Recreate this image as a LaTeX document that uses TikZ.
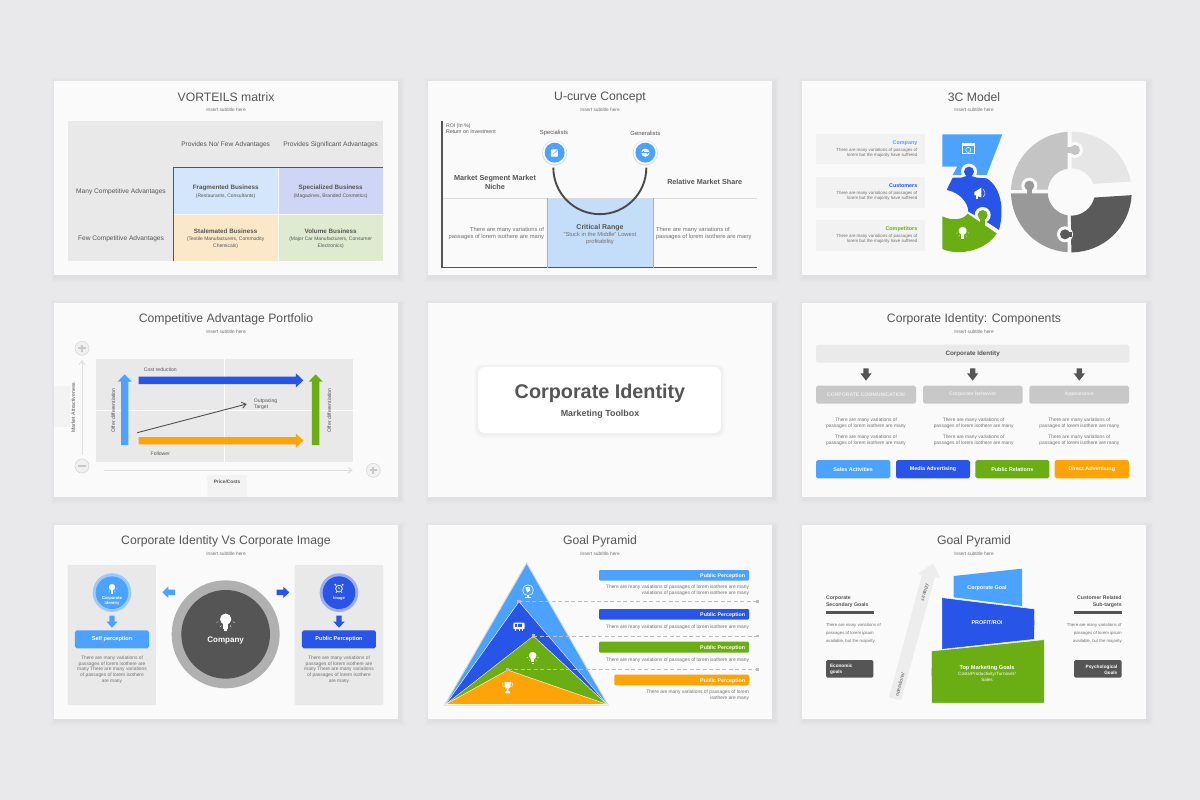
\documentclass[tikz,border=0pt]{standalone}
\usepackage{fontspec}
\usetikzlibrary{arrows.meta}
\setmainfont{Liberation Sans}
\definecolor{bgc}{HTML}{E9E9EB}
\definecolor{pan}{HTML}{FAFAFA}
\definecolor{tg}{HTML}{555555}
\definecolor{tl}{HTML}{707070}
\definecolor{lb}{HTML}{4BA3FF}
\definecolor{db}{HTML}{2855E8}
\definecolor{gr}{HTML}{6AAE14}
\definecolor{or}{HTML}{FFA408}
\definecolor{gy}{HTML}{E9E9E9}
\definecolor{cD4E6FB}{HTML}{D4E6FB}\definecolor{cCFD5F5}{HTML}{CFD5F5}\definecolor{cFBE8C8}{HTML}{FBE8C8}\definecolor{cDFEBD0}{HTML}{DFEBD0}
\definecolor{cC4DDF8}{HTML}{C4DDF8}\definecolor{cDADADA}{HTML}{DADADA}\definecolor{c9DB4CC}{HTML}{9DB4CC}\definecolor{c4A4A4A}{HTML}{4A4A4A}
\definecolor{cDEDEDE}{HTML}{DEDEDE}\definecolor{cF2F2F2}{HTML}{F2F2F2}\definecolor{cC4C4C4}{HTML}{C4C4C4}\definecolor{cE6E6E6}{HTML}{E6E6E6}
\definecolor{c5A5A5A}{HTML}{5A5A5A}\definecolor{c999999}{HTML}{999999}\definecolor{cF3F3F3}{HTML}{F3F3F3}\definecolor{cD9D9D9}{HTML}{D9D9D9}
\definecolor{cF0F0F0}{HTML}{F0F0F0}\definecolor{cC9C9C9}{HTML}{C9C9C9}\definecolor{c4F4F4F}{HTML}{4F4F4F}\definecolor{cEAEAEA}{HTML}{EAEAEA}
\definecolor{cC8C8C8}{HTML}{C8C8C8}\definecolor{c9CCBFA}{HTML}{9CCBFA}\definecolor{c9DADEE}{HTML}{9DADEE}\definecolor{cB0B0B0}{HTML}{B0B0B0}
\definecolor{cD4D4D4}{HTML}{D4D4D4}\definecolor{cBDBDBD}{HTML}{BDBDBD}\definecolor{cEBEBEB}{HTML}{EDEDED}
\tikzset{
  zp/.style 2 args={shift={(#1,#2)},x=0.33333pt,y=-0.33333pt},
  txt/.style={inner sep=0pt,outer sep=0pt,text=tg,align=center,yshift=-0.9pt},
  fs/.style 2 args={font=\fontsize{#1}{#2}\selectfont},
  b/.style={execute at begin node=\bfseries},
  body/.style={txt,text=tl,fs={4.85}{5.8}},
  box/.style={inner sep=0pt,outer sep=0pt,rounded corners=1.8pt,text=white,font=\fontsize{6}{7}\selectfont\bfseries},
}
\newcommand\pshadow[4]{%
  \foreach \k in {1,...,5}{\fill[black,opacity=0.007] (#1-\k+2,#2-\k+2) rectangle (#3+\k+2,#4+\k+2);}}
\newcommand\panel[4]{%
  \pshadow{#2}{#3}{#2+344}{#3+194}
  \fill[pan] (#2,#3) rectangle (#2+344,#3+194);
  \node[txt,fs={12.2}{14}] (#1t) at (#2+172,#3+15.4) {#4};
  \node[txt,text=tl,fs={4.8}{5}] (#1s) at (#2+172,#3+28) {Insert subtitle here};
}
\newcommand\boxn[7]{\node[box,fill=#6,minimum width={(#4-#2)/3*1pt},minimum height={(#5-#3)/3*1pt}] (#1) at ({(#2+#4)/2},{(#3+#5)/2}) {#7};}
\newcommand\arH[7]{\fill[#7] (#1,#3-#4) -- (#2-#6,#3-#4) -- (#2-#6,#3-#5) -- (#2,#3) -- (#2-#6,#3+#5) -- (#2-#6,#3+#4) -- (#1,#3+#4) -- cycle;}
\newcommand\arV[7]{\fill[#7] (#3-#4,#1) -- (#3-#4,#2-#6) -- (#3-#5,#2-#6) -- (#3,#2) -- (#3+#5,#2-#6) -- (#3+#4,#2-#6) -- (#3+#4,#1) -- cycle;}
\newcommand\ringsec[5]{\fill[#1] (#2:181) arc[start angle=#2,end angle=#3,radius=181] -- (#4:71) arc[start angle=#4,end angle=#5,radius=71] -- cycle;}
% icons
\newcommand\icbulb[4]{\begin{scope}[shift={(#1,#2)},x=#3pt,y=-#3pt]
  \fill[#4] (0,-1.2) circle (2.7);
  \fill[#4] (-1.2,1) rectangle (1.2,3.3);
  \fill[#4] (-0.8,3.7) rectangle (0.8,4.4);
  \foreach \a in {200,235,270,305,340}{\draw[#4,line width=0.35pt] (0,-1.2)++(-\a:3.6) -- ++(-\a:1);}
  \end{scope}}
\newcommand\icwin[4]{\begin{scope}[shift={(#1,#2)},x=#3pt,y=-#3pt]
  \draw[#4,line width=0.6pt] (-3.6,-3.4) rectangle (3.6,3.4);
  \fill[#4] (-3.6,-3.4) rectangle (3.6,-1.6);
  \draw[#4,line width=0.5pt] (0,1) circle (1.6);
  \end{scope}}
\newcommand\icmega[4]{\begin{scope}[shift={(#1,#2)},x=#3pt,y=-#3pt]
  \fill[#4] (-4,-1) -- (1,-4) -- (1,3) -- (-4,1.2) -- cycle;
  \fill[#4] (-3,1) rectangle (-1.4,4.2);
  \draw[#4,line width=0.5pt] (2.2,-3) -- (3.4,-1) -- (3.4,1) -- (2.2,2.4);
  \end{scope}}
\newcommand\icedit[4]{\begin{scope}[shift={(#1,#2)},x=#3pt,y=-#3pt]
  \fill[#4,rounded corners=0.5pt] (-3,-2.6) rectangle (2.6,3.2);
  \draw[lb,line width=0.5pt] (-1,1) -- (3.4,-3.2);
  \end{scope}}
\newcommand\icglobe[4]{\begin{scope}[shift={(#1,#2)},x=#3pt,y=-#3pt]
  \fill[#4] (0,0) circle (3.3);
  \draw[lb,line width=0.4pt] (-3.2,0) -- (3.2,0);
  \fill[lb] (-1.6,-0.9) circle (0.6) (1.6,0.9) circle (0.6);
  \end{scope}}
\newcommand\icclock[4]{\begin{scope}[shift={(#1,#2)},x=#3pt,y=-#3pt]
  \draw[#4,line width=0.8pt] (0,0.3) circle (3.2);
  \draw[#4,line width=0.5pt] (0,-1.3) -- (0,0.3) -- (1.2,0.8);
  \fill[#4] (-3.4,-3.4) circle (1) (3.4,-3.4) circle (1);
  \draw[#4,line width=0.5pt] (-2,3.2) -- (-3,4.4) (2,3.2) -- (3,4.4);
  \end{scope}}
\newcommand\icwglobe[4]{\begin{scope}[shift={(#1,#2)},x=#3pt,y=-#3pt]
  \draw[#4,line width=0.6pt] (0,-0.8) circle (3.6);
  \fill[#4] (-1.8,-2.6) -- (1,-3) -- (1.6,-0.6) -- (-0.6,0.8) -- cycle;
  \fill[#4] (-2,3.9) rectangle (2,4.5);
  \fill[#4] (-0.4,2.7) rectangle (0.4,4);
  \end{scope}}
\newcommand\icabc[4]{\begin{scope}[shift={(#1,#2)},x=#3pt,y=-#3pt]
  \fill[#4,rounded corners=0.8pt] (-4.6,-3) rectangle (4.6,2.4);
  \foreach \q in {-3,-0.9,1.2}{\fill[db] (\q,-1.6) rectangle (\q+1.6,0.6);}
  \foreach \q in {-3,0,3}{\fill[#4] (\q-0.35,2.4) rectangle (\q+0.35,4.2);}
  \end{scope}}
\newcommand\ictrophy[4]{\begin{scope}[shift={(#1,#2)},x=#3pt,y=-#3pt]
  \fill[#4] (-2.6,-4.4) -- (2.6,-4.4) -- (2,-0.4) -- (0.6,0.8) -- (0.6,2.4) -- (2,3.4) -- (2,4.6) -- (-2,4.6) -- (-2,3.4) -- (-0.6,2.4) -- (-0.6,0.8) -- (-2,-0.4) -- cycle;
  \draw[#4,line width=0.4pt] (-2.6,-3.6) -- (-4,-3.6) -- (-3.8,-1.4) -- (-2,-0.8) (2.6,-3.6) -- (4,-3.6) -- (3.8,-1.4) -- (2,-0.8);
  \end{scope}}
\begin{document}
\begin{tikzpicture}[x=1pt,y=-1pt]
\useasboundingbox (0,0) rectangle (1200,800);
\fill[bgc] (0,0) rectangle (1200,800);
%% panels
\panel{pa}{54}{81}{VORTEILS matrix}
\panel{pb}{428}{81}{U-curve Concept}
\panel{pc}{802}{81}{3C Model}
\panel{pd}{54}{303}{Competitive Advantage Portfolio}
\pshadow{428}{303}{772}{497}
\fill[pan] (428,303) rectangle (772,497);
\panel{pf}{802}{303}{Corporate Identity: Components}
\panel{pg}{54}{525}{Corporate Identity Vs Corporate Image}
\panel{ph}{428}{525}{Goal Pyramid}
\panel{pi}{802}{525}{Goal Pyramid}

%% A: matrix
\begin{scope}[zp={50}{75}]
\fill[gy] (55,137) rectangle (1000,558);
\fill[white!60!gy] (370,277) rectangle (1000,558);
\fill[cD4E6FB] (372,278) rectangle (685,417);
\fill[cCFD5F5] (688,278) rectangle (1000,417);
\fill[cFBE8C8] (372,420) rectangle (685,558);
\fill[cDFEBD0] (688,420) rectangle (1000,558);
\draw[tg,line width=0.9pt] (370,558) -- (370,277) -- (1000,277);
\node[txt,fs={6.6}{7}] (a1) at (527,207) {Provides No/ Few Advantages};
\node[txt,fs={6.6}{7}] (a2) at (842,207) {Provides Significant Advantages};
\node[txt,fs={6.6}{7}] (a3) at (213,348) {Many Competitive Advantages};
\node[txt,fs={6.6}{7}] (a4) at (213,488) {Few Competitive Advantages};
\node[txt,b,fs={6.3}{7}] (a5) at (527,337) {Fragmented Business};
\node[txt,fs={5}{7}] (a6) at (527,360) {(Restaurants, Consultants)};
\node[txt,b,fs={6.3}{7}] (a7) at (842,337) {Specialized Business};
\node[txt,fs={5}{7}] (a8) at (842,360) {(Magazines, Branded Cosmetics)};
\node[txt,b,fs={6.3}{7}] (a9) at (527,467) {Stalemated Business};
\node[txt,fs={5}{7}] (a10) at (527,501) {(Textile Manufacturers, Commodity\\Chemicals)};
\node[txt,b,fs={6.3}{7}] (a11) at (842,467) {Volume Business};
\node[txt,fs={5}{7}] (a12) at (842,501) {(Major Car Manufacturers, Consumer\\Electronics)};
\end{scope}

%% B: U-curve
\begin{scope}[zp={425}{75}]
\fill[cC4DDF8] (367,369) rectangle (683,578);
\draw[cDADADA,line width=0.8pt] (53,369) -- (997,369);
\draw[tg,line width=1.2pt] (51,137) -- (51,578) -- (997,578);
\draw[c9DB4CC,line width=0.3pt] (367,369) -- (367,578) (683,369) -- (683,578);
\coordinate (bu1) at (385,278);
\coordinate (bu2) at (664,278);
\draw[c4A4A4A,line width=1.9pt] (bu1) arc[start angle=180,end angle=0,radius=139.5];
\foreach \cx/\nm in {389/bc1,661/bc2}{
 \fill[cDEDEDE] (\cx,234) circle (38);
 \node[circle,fill=white,minimum size=23.5pt,inner sep=0pt] at (\cx,233) {};
 \node[circle,fill=lb,minimum size=20pt,inner sep=0pt] (\nm) at (\cx,233) {};
}
\icedit{389}{233}{1.25}{white}
\icglobe{661}{233}{1.25}{white}
\node[txt,align=left,anchor=north west,fs={5.2}{6}] (b1) at (63,143) {ROI (In \%)\\Return on Investment};
\node[txt,fs={5.9}{6}] (b2) at (387,171) {Specialists};
\node[txt,fs={5.9}{6}] (b3) at (661,171) {Generalists};
\node[txt,b,fs={7.3}{9.4}] (b4) at (210,320) {Market Segment Market\\Niche};
\node[txt,b,fs={7.2}{9}] (b5) at (839,319) {Relative Market Share};
\node[txt,text=tl,align=right,anchor=east,fs={5.8}{7}] (b6) at (357,474) {There are many variations of\\passages of lorem isothere are many};
\node[txt,text=tl,align=left,anchor=west,fs={5.8}{7}] (b7) at (693,474) {There are many variations of\\passages of lorem isothere are many};
\node[txt,b,fs={7}{8}] (b8) at (525,454) {Critical Range};
\node[txt,text=tl,fs={5.8}{7}] (b9) at (525,488) {"Stuck in the Middle" Lowest\\profitability};
\end{scope}

%% C: 3C
\begin{scope}[zp={800}{75}]
\foreach \a/\b in {178/268,306/398,435/528}{\fill[cF2F2F2] (48,\a) rectangle (376,\b);}
\node[txt,b,text=lb,anchor=east,fs={5.4}{6}] (c1) at (352,201) {Company};
\node[txt,b,text=db,anchor=east,fs={5.4}{6}] (c2) at (352,330) {Customers};
\node[txt,b,text=gr,anchor=east,fs={5.4}{6}] (c3) at (352,459) {Competitors};
\node[body,align=right,anchor=east,fs={4.4}{5.3}] (c4) at (352,230) {There are many variations of passages of\\lorem but the majority have suffered};
\node[body,align=right,anchor=east,fs={4.4}{5.3}] (c5) at (352,360) {There are many variations of passages of\\lorem but the majority have suffered};
\node[body,align=right,anchor=east,fs={4.4}{5.3}] (c6) at (352,489) {There are many variations of passages of\\lorem but the majority have suffered};
% the 3
\fill[lb] (427,178) -- (607,178) -- (560,300) -- (458,300) -- (472,275) -- (427,275) -- cycle;
\fill[pan] (507,290) circle (24);
\fill[db] (458,308) -- (484,308) -- (496,304) -- (518,304) -- (530,308) -- (560,310) .. controls (600,335) and (615,395) .. (597,465) -- (570,447) -- (505,410) .. controls (505,385) and (480,352) .. (440,345) -- cycle;
\fill[db] (507,290) circle (15);
\fill[db] (499,295) rectangle (515,310);
\fill[pan] (548,420) circle (24);
\fill[gr] (427,424) .. controls (455,438) and (490,435) .. (503,416) -- (590,475) .. controls (560,525) and (480,545) .. (427,522) -- cycle;
\fill[gr] (548,420) circle (15);
\fill[gr] (541,425) rectangle (556,455);
\icwin{505}{220}{1.6}{white}
\icmega{540}{355}{1.4}{white}
\icbulb{488}{473}{1.5}{white}
% the C
\begin{scope}[shift={(814,351)}]
\ringsec{cC4C4C4}{182}{266.5}{261}{186}
\ringsec{cE6E6E6}{270.3}{350}{340}{271}
\ringsec{c5A5A5A}{3}{90}{91}{13.5}
\ringsec{c999999}{93.5}{178.7}{176.7}{99}
\end{scope}
\fill[pan] (825,225) circle (24);
\fill[cC4C4C4] (825,225) circle (15);
\fill[cC4C4C4] (802,217) rectangle (818,233);
\fill[pan] (688,332) circle (24);
\fill[c999999] (688,332) circle (15);
\fill[c999999] (680,338) rectangle (696,356);
\fill[pan] (795,478) circle (24);
\fill[c5A5A5A] (795,478) circle (15);
\fill[c5A5A5A] (798,470) rectangle (815,486);
\end{scope}

%% D: portfolio
\begin{scope}[zp={50}{300}]
\fill[cF3F3F3] (12,258) rectangle (60,380);
\fill[cF3F3F3] (472,525) rectangle (590,590);
\fill[gy] (138,178) rectangle (910,485);
\draw[white,line width=0.8pt] (522,178) -- (522,485) (138,332) -- (925,332);
\coordinate (dv0) at (96,465); \coordinate (dv1) at (96,180);
\coordinate (dh0) at (162,511); \coordinate (dh1) at (908,511);
\draw[cDEDEDE,line width=1pt,-{Straight Barb[length=4pt,width=6pt]}] (dv0) -- (dv1);
\draw[cDEDEDE,line width=1pt,-{Straight Barb[length=4pt,width=6pt]}] (dh0) -- (dh1);
\foreach \x/\y/\n/\p in {96/145/dc1/1,96/498/dc2/0,970/511/dc3/1}{
 \node[circle,draw=cD9D9D9,fill=cF0F0F0,line width=0.6pt,minimum size=14pt,inner sep=0pt] (\n) at (\x,\y) {};
 \fill[cC9C9C9] (\x-11,\y-3) rectangle (\x+11,\y+3);
 \ifnum\p=1 \fill[cC9C9C9] (\x-3,\y-11) rectangle (\x+3,\y+11);\fi
}
\arV{435}{223}{224}{11}{21}{-22}{lb}
\arV{435}{223}{797}{11}{21}{-22}{gr}
\arH{266}{760}{241}{11}{21}{22}{db}
\arH{266}{760}{422}{11}{21}{22}{or}
\coordinate (da0) at (262,398);
\coordinate (da1) at (590,312);
\draw[c4F4F4F,line width=0.9pt,-{Straight Barb[length=4pt,width=6pt]}] (da0) -- (da1);
\node[txt,fs={5.1}{6}] (d1) at (331,206) {Cost reduction};
\node[txt,align=left,anchor=west,fs={5.1}{6}] (d2) at (612,311) {Outpacing\\Target};
\node[txt,fs={5.1}{6}] (d3) at (331,457) {Follower};
\node[txt,rotate=90,fs={5.2}{6}] (d4) at (190,329) {Offer differentiation};
\node[txt,rotate=90,fs={5.2}{6}] (d5) at (838,329) {Offer differentiation};
\node[txt,rotate=90,fs={5.2}{6}] (d6) at (70,320) {Market Attractiveness};
\node[txt,b,fs={4.8}{6}] (d7) at (531,542) {Price/Costs};
\end{scope}

%% E: cover
\foreach \k in {1,...,4}{\fill[black,opacity=0.012,rounded corners=8pt] (478-\k,367-\k+1) rectangle (721+\k,433+\k+1);}
\fill[white,rounded corners=7pt] (478,367) rectangle (721,433);
\node[txt,b,fs={19.8}{22}] (e1) at (600,392) {Corporate Identity};
\node[txt,b,fs={8.9}{10}] (e2) at (600,413.5) {Marketing Toolbox};

%% F: components
\begin{scope}[zp={800}{300}]
\boxn{f0}{48}{134}{988}{188}{cEAEAEA}{\fontsize{6.3}{7}\selectfont\textcolor{tg}{Corporate Identity}}
\foreach \x in {198,518,838}{\arV{205}{242}{\x}{8}{17}{22}{tg}}
\boxn{f1}{48}{257}{348}{311}{cC8C8C8}{\fontsize{5.1}{6}\selectfont\textcolor{cEBEBEB}{CORPORATE COMMUNICATION}}
\boxn{f2}{369}{257}{668}{311}{cC8C8C8}{\fontsize{5.1}{6}\selectfont\textcolor{cEBEBEB}{Corporate behavior}}
\boxn{f3}{688}{257}{987}{311}{cC8C8C8}{\fontsize{5.1}{6}\selectfont\textcolor{cEBEBEB}{Appearance}}
\foreach \x/\n in {198/fa,521/fb,838/fc}{
 \node[body] (\n1) at (\x,367) {There are many variations of\\passages of lorem isothere are many};
 \node[body] (\n2) at (\x,419) {There are many variations of\\passages of lorem isothere are many};
}
\boxn{f4}{48}{480}{271}{535}{lb}{\fontsize{5.4}{6}\selectfont Sales Activities}
\boxn{f5}{288}{480}{510}{535}{db}{\fontsize{5.4}{6}\selectfont Media Advertising}
\boxn{f6}{526}{480}{748}{535}{gr}{\fontsize{5.4}{6}\selectfont Public Relations}
\boxn{f7}{764}{480}{987}{535}{or}{\fontsize{5.4}{6}\selectfont Direct Advertising}
\end{scope}

%% G: identity vs image
\begin{scope}[zp={50}{520}]
\fill[gy,rounded corners=1pt] (53,135) rectangle (318,555);
\fill[gy,rounded corners=1pt] (734,135) rectangle (1000,555);
\fill[c9CCBFA] (186,218) circle (58);
\fill[lb] (186,218) circle (49);
\fill[c9DADEE] (867,218) circle (58);
\fill[db] (867,218) circle (49);
\icbulb{186}{206}{1.2}{white}
\icclock{867}{205}{1.05}{white}
\node[txt,text=white,b,fs={4.1}{4.8}] (g1) at (186,241) {Corporate\\Identity};
\node[txt,text=white,b,fs={4}{4.8}] (g2) at (867,233) {Image};
\arV{287}{323}{186}{8}{17}{18}{lb}
\arV{287}{323}{867}{8}{17}{18}{db}
\boxn{g3}{75}{331}{297}{385}{lb}{\fontsize{5.6}{7}\selectfont Self perception}
\boxn{g4}{756}{331}{978}{385}{db}{\fontsize{5.6}{7}\selectfont Public Perception}
\node[body] (g5) at (186,446) {There are many variations of\\passages of lorem isothere are\\many There are many variations\\of passages of lorem isothere\\are many};
\node[body] (g6) at (867,446) {There are many variations of\\passages of lorem isothere are\\many There are many variations\\of passages of lorem isothere\\are many};
\fill[cB0B0B0] (527,343) circle (162);
\fill[tg] (527,343) circle (133);
\icbulb{527}{305}{2.1}{white}
\node[txt,text=white,b,fs={8}{9}] (g7) at (527,360) {Company};
\arH{375}{337}{217}{8}{17}{-18}{lb}
\arH{680}{718}{217}{8}{17}{18}{db}
\end{scope}

%% H: pyramid
\begin{scope}[zp={425}{520}]
\fill[cD9D9D9] (305,126) -- (552,557) -- (56,557) -- cycle;
\fill[lb] (305,133) -- (546,553) -- (62,553) -- cycle;
\fill[db,draw=white,line width=0.4pt] (282,245) -- (546,553) -- (62,553) -- cycle;
\fill[gr,draw=white,line width=0.4pt] (325,348) -- (546,553) -- (62,553) -- cycle;
\fill[or,draw=white,line width=0.4pt] (248,450) -- (546,553) -- (62,553) -- cycle;
\coordinate (h1a) at (282,244); \coordinate (h1b) at (998,244);
\coordinate (h2a) at (325,348); \coordinate (h2b) at (998,348);
\coordinate (h3a) at (248,449); \coordinate (h3b) at (998,449);
\foreach \p in {1,2,3}{
 \draw[cBDBDBD,line width=0.5pt,dash pattern=on 4pt off 2.5pt] (h\p a) -- (h\p b);
 \fill[cBDBDBD] (h\p a)++(-5,-5) rectangle ++(10,10);
 \fill[cBDBDBD] (h\p b)++(-4,-4) rectangle ++(8,8);
}
\icwglobe{309}{214}{1.5}{white}
\icabc{282}{319}{1.2}{white}
\icbulb{323}{412}{1.4}{white}
\ictrophy{248}{503}{1.25}{white}
\foreach \n/\xa/\ya/\yb/\c in {ha/522/150/182/lb,hb/522/267/299/db,hc/522/365/398/gr,hd/568/464/496/or}{
 \fill[\c,rounded corners=1.2pt] (\xa,\ya) rectangle (972,\yb);
 \node[txt,text=white,b,anchor=east,fs={5.3}{6}] (\n) at (960,{(\ya+\yb)/2}) {Public Perception};
}
\node[body,align=right,anchor=east] (h1) at (972,209) {There are many variations of passages of lorem isothere are many\\variations of passages of lorem isothere are many};
\node[body,align=right,anchor=east] (h2) at (972,318) {There are many variations of passages of lorem isothere are many};
\node[body,align=right,anchor=east] (h3) at (972,417) {There are many variations of passages of lorem isothere are many};
\node[body,align=right,anchor=east] (h4) at (972,523) {There are many variations of passages of lorem\\isothere are many};
\end{scope}

%% I: goal pyramid 2
\begin{scope}[zp={800}{520}]
\fill[cEBEBEB] (267,532) -- (365,168) -- (355,160) -- (400,130) -- (420,174) -- (405,170) -- (303,541) -- cycle;
\node[txt,rotate=75,fs={4.8}{5}] (i1) at (301,491) {operational};
\node[txt,rotate=75,fs={4.8}{5}] (i2) at (375,215) {strategy};
\fill[lb] (461,168) -- (666,146) -- (666,258) -- (461,232) -- cycle;
\fill[db,draw=white,line width=0.4pt] (426,233) -- (704,267) -- (703,358) -- (426,388) -- cycle;
\fill[gr,draw=white,line width=0.4pt] (394,393) -- (733,359) -- (733,549) -- (395,549) -- cycle;
\node[txt,text=white,b,fs={5.4}{6}] (i3) at (561,201) {Corporate Goal};
\node[txt,text=white,b,fs={5.4}{6}] (i4) at (561,306) {PROFIT/ROI};
\node[txt,text=white,b,fs={5.6}{6.4}] (i5) at (561,441) {Top Marketing Goals};
\node[txt,text=white,fs={4.6}{6}] (i6) at (561,469) {Costs/Productivity/Turnover/\\Sales};
\node[txt,b,align=left,anchor=west,fs={5.2}{7}] (i7) at (78,243) {Corporate\\Secondary Goals};
\node[txt,b,align=right,anchor=east,fs={5.2}{7}] (i8) at (965,243) {Customer Related\\Sub-targets};
\fill[tg] (78,274) rectangle (221,282);
\fill[tg] (822,274) rectangle (965,282);
\node[body,align=left,anchor=west,fs={4.3}{8}] (i9) at (78,336) {There are many variations of\\passages of lorem ipsum\\available, but the majority};
\node[body,align=right,anchor=east,fs={4.3}{8}] (i10) at (965,336) {There are many variations of\\passages of lorem ipsum\\available, but the majority};
\fill[tg,rounded corners=1.5pt] (78,420) rectangle (220,473);
\fill[tg,rounded corners=1.5pt] (822,420) rectangle (965,473);
\node[txt,text=white,b,align=left,anchor=west,fs={4.7}{6}] (i11) at (90,446) {Economic\\goals};
\node[txt,text=white,b,align=right,anchor=east,fs={4.7}{6}] (i12) at (952,447) {Psychological\\Goals};
\end{scope}
\end{tikzpicture}
\end{document}
